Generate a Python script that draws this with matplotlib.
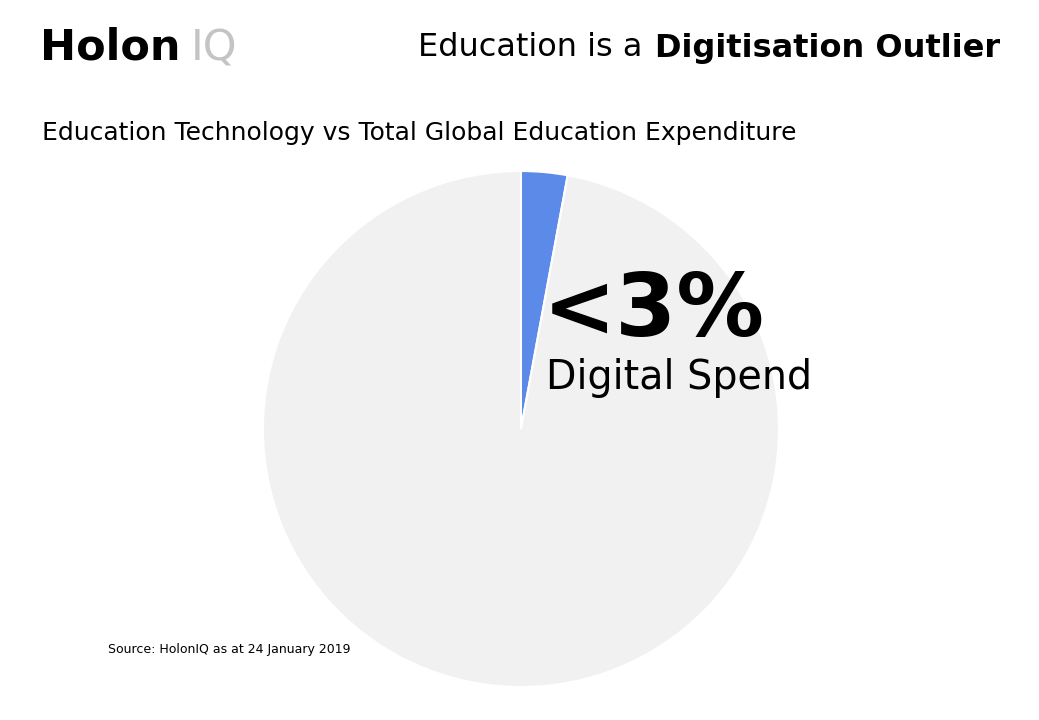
import matplotlib
matplotlib.use("Agg")
import matplotlib.pyplot as plt

labels = ["Digital Spend", "Other Education Expenditure"]
values = [2.9, 97.1]
colors = ["#5b8ae8", "#f1f1f1"]

fig = plt.figure(figsize=(10.39, 7.2), dpi=100)
fig.patch.set_facecolor("white")
ax = fig.add_axes([0.2531, 0.0458, 0.4966, 0.7167])
ax.pie(values, colors=colors, startangle=90, counterclock=False,
       wedgeprops=dict(edgecolor="white", linewidth=1.5))
ax.set_xlim(-1, 1)
ax.set_ylim(-1, 1)
ax.set_aspect("equal")
ax.axis("off")

fam = ["DejaVu Sans"]
Y = 1 - 48/720
t1 = fig.text(40/1039, Y, "Holon", fontsize=31, fontweight="bold", family=fam, va="center", ha="left", color="black")
fig.canvas.draw()
bb = t1.get_window_extent()
fig.text((bb.x1+10)/1039, Y, "IQ", fontsize=31, family=fam, color="#c4c4c4", va="center", ha="left")

tb = fig.text(1000/1039, Y, "Digitisation Outlier", fontsize=23, fontweight="bold", family=fam, ha="right", va="center")
fig.canvas.draw()
bb = tb.get_window_extent()
fig.text((bb.x0-2)/1039, Y, "Education is a ", fontsize=23, family=fam, ha="right", va="center")

fig.text(42/1039, 1-133/720, "Education Technology vs Total Global Education Expenditure", fontsize=18, family=fam, va="center", ha="left")
fig.text(543/1039, 1-312/720, "<3%", fontsize=63, fontweight="bold", family=fam, va="center", ha="left")
fig.text(546/1039, 1-378/720, "Digital Spend", fontsize=28.5, family=fam, va="center", ha="left")
fig.text(108/1039, 1-650/720, "Source: HolonIQ as at 24 January 2019", fontsize=9, family=fam, va="center", ha="left")

fig.savefig("out.png", dpi=100)
